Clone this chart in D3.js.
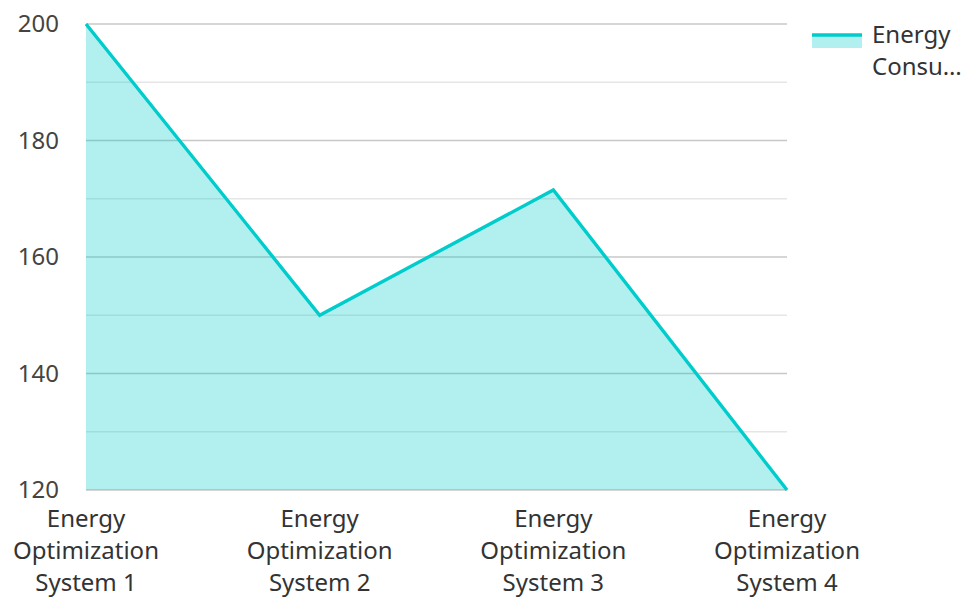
<!DOCTYPE html>
<html><head><meta charset="utf-8">
<script src="https://cdn.jsdelivr.net/npm/d3@7"></script>
<style>body{margin:0;background:#fff}svg{display:block;font-family:"Noto Sans","Open Sans",sans-serif}</style>
</head><body><svg id="c" width="966" height="597"></svg>
<script>
const categories = ["Energy Optimization System 1","Energy Optimization System 2","Energy Optimization System 3","Energy Optimization System 4"];
const values = [200, 150, 171.5, 120];
const yTicks = [120, 140, 160, 180, 200];
const yMinor = [130, 150, 170, 190];
const seriesName = "Energy Consumption";

const svg = d3.select("#c");
const x = d3.scalePoint().domain(categories).range([86, 787]);
const y = d3.scaleLinear().domain([120, 200]).range([490, 24]);

svg.append("g").selectAll("line").data(yMinor).join("line")
  .attr("x1", 86).attr("x2", 787).attr("y1", d => y(d)).attr("y2", d => y(d))
  .attr("stroke", "#e6e6e6").attr("stroke-width", 1.3);
svg.append("g").selectAll("line").data(yTicks).join("line")
  .attr("x1", 86).attr("x2", 787).attr("y1", d => y(d)).attr("y2", d => y(d))
  .attr("stroke", "#c8c8c8").attr("stroke-width", 1.3);

const area = d3.area().x(d => x(d.c)).y0(y(120)).y1(d => y(d.v));
const line = d3.line().x(d => x(d.c)).y(d => y(d.v));
const data = categories.map((c, i) => ({c, v: values[i]}));
svg.append("path").datum(data).attr("d", area).attr("fill", "#00cccc").attr("fill-opacity", 0.3);
svg.append("path").datum(data).attr("d", line).attr("fill", "none").attr("stroke", "#00cccc").attr("stroke-width", 3.4).attr("stroke-linejoin", "miter");

svg.append("g").selectAll("text").data(yTicks).join("text")
  .attr("x", 59).attr("y", d => y(d) + 8).attr("text-anchor", "end")
  .attr("font-size", 24).attr("fill", "#444").text(d => d);

const xl = svg.append("g").selectAll("text").data(categories).join("text")
  .attr("text-anchor", "middle").attr("font-size", 24).attr("fill", "#333");
xl.each(function(d) {
  const words = d.split(" ");
  const lines = [words[0], words[1], words.slice(2).join(" ")];
  const t = d3.select(this);
  lines.forEach((l, i) => t.append("tspan").attr("x", x(d)).attr("y", 526.5 + i * 32.3).text(l));
});

const lg = svg.append("g");
lg.append("rect").attr("x", 812).attr("y", 35).attr("width", 50).attr("height", 13).attr("fill", "#00cccc").attr("fill-opacity", 0.3);
lg.append("line").attr("x1", 812).attr("x2", 862).attr("y1", 35).attr("y2", 35).attr("stroke", "#00cccc").attr("stroke-width", 3.5);
const lt = lg.append("text").attr("font-size", 24).attr("fill", "#333");
lt.append("tspan").attr("x", 872).attr("y", 43).text(seriesName.split(" ")[0]);
lt.append("tspan").attr("x", 872).attr("y", 75).text("Consu…");
</script></body></html>
